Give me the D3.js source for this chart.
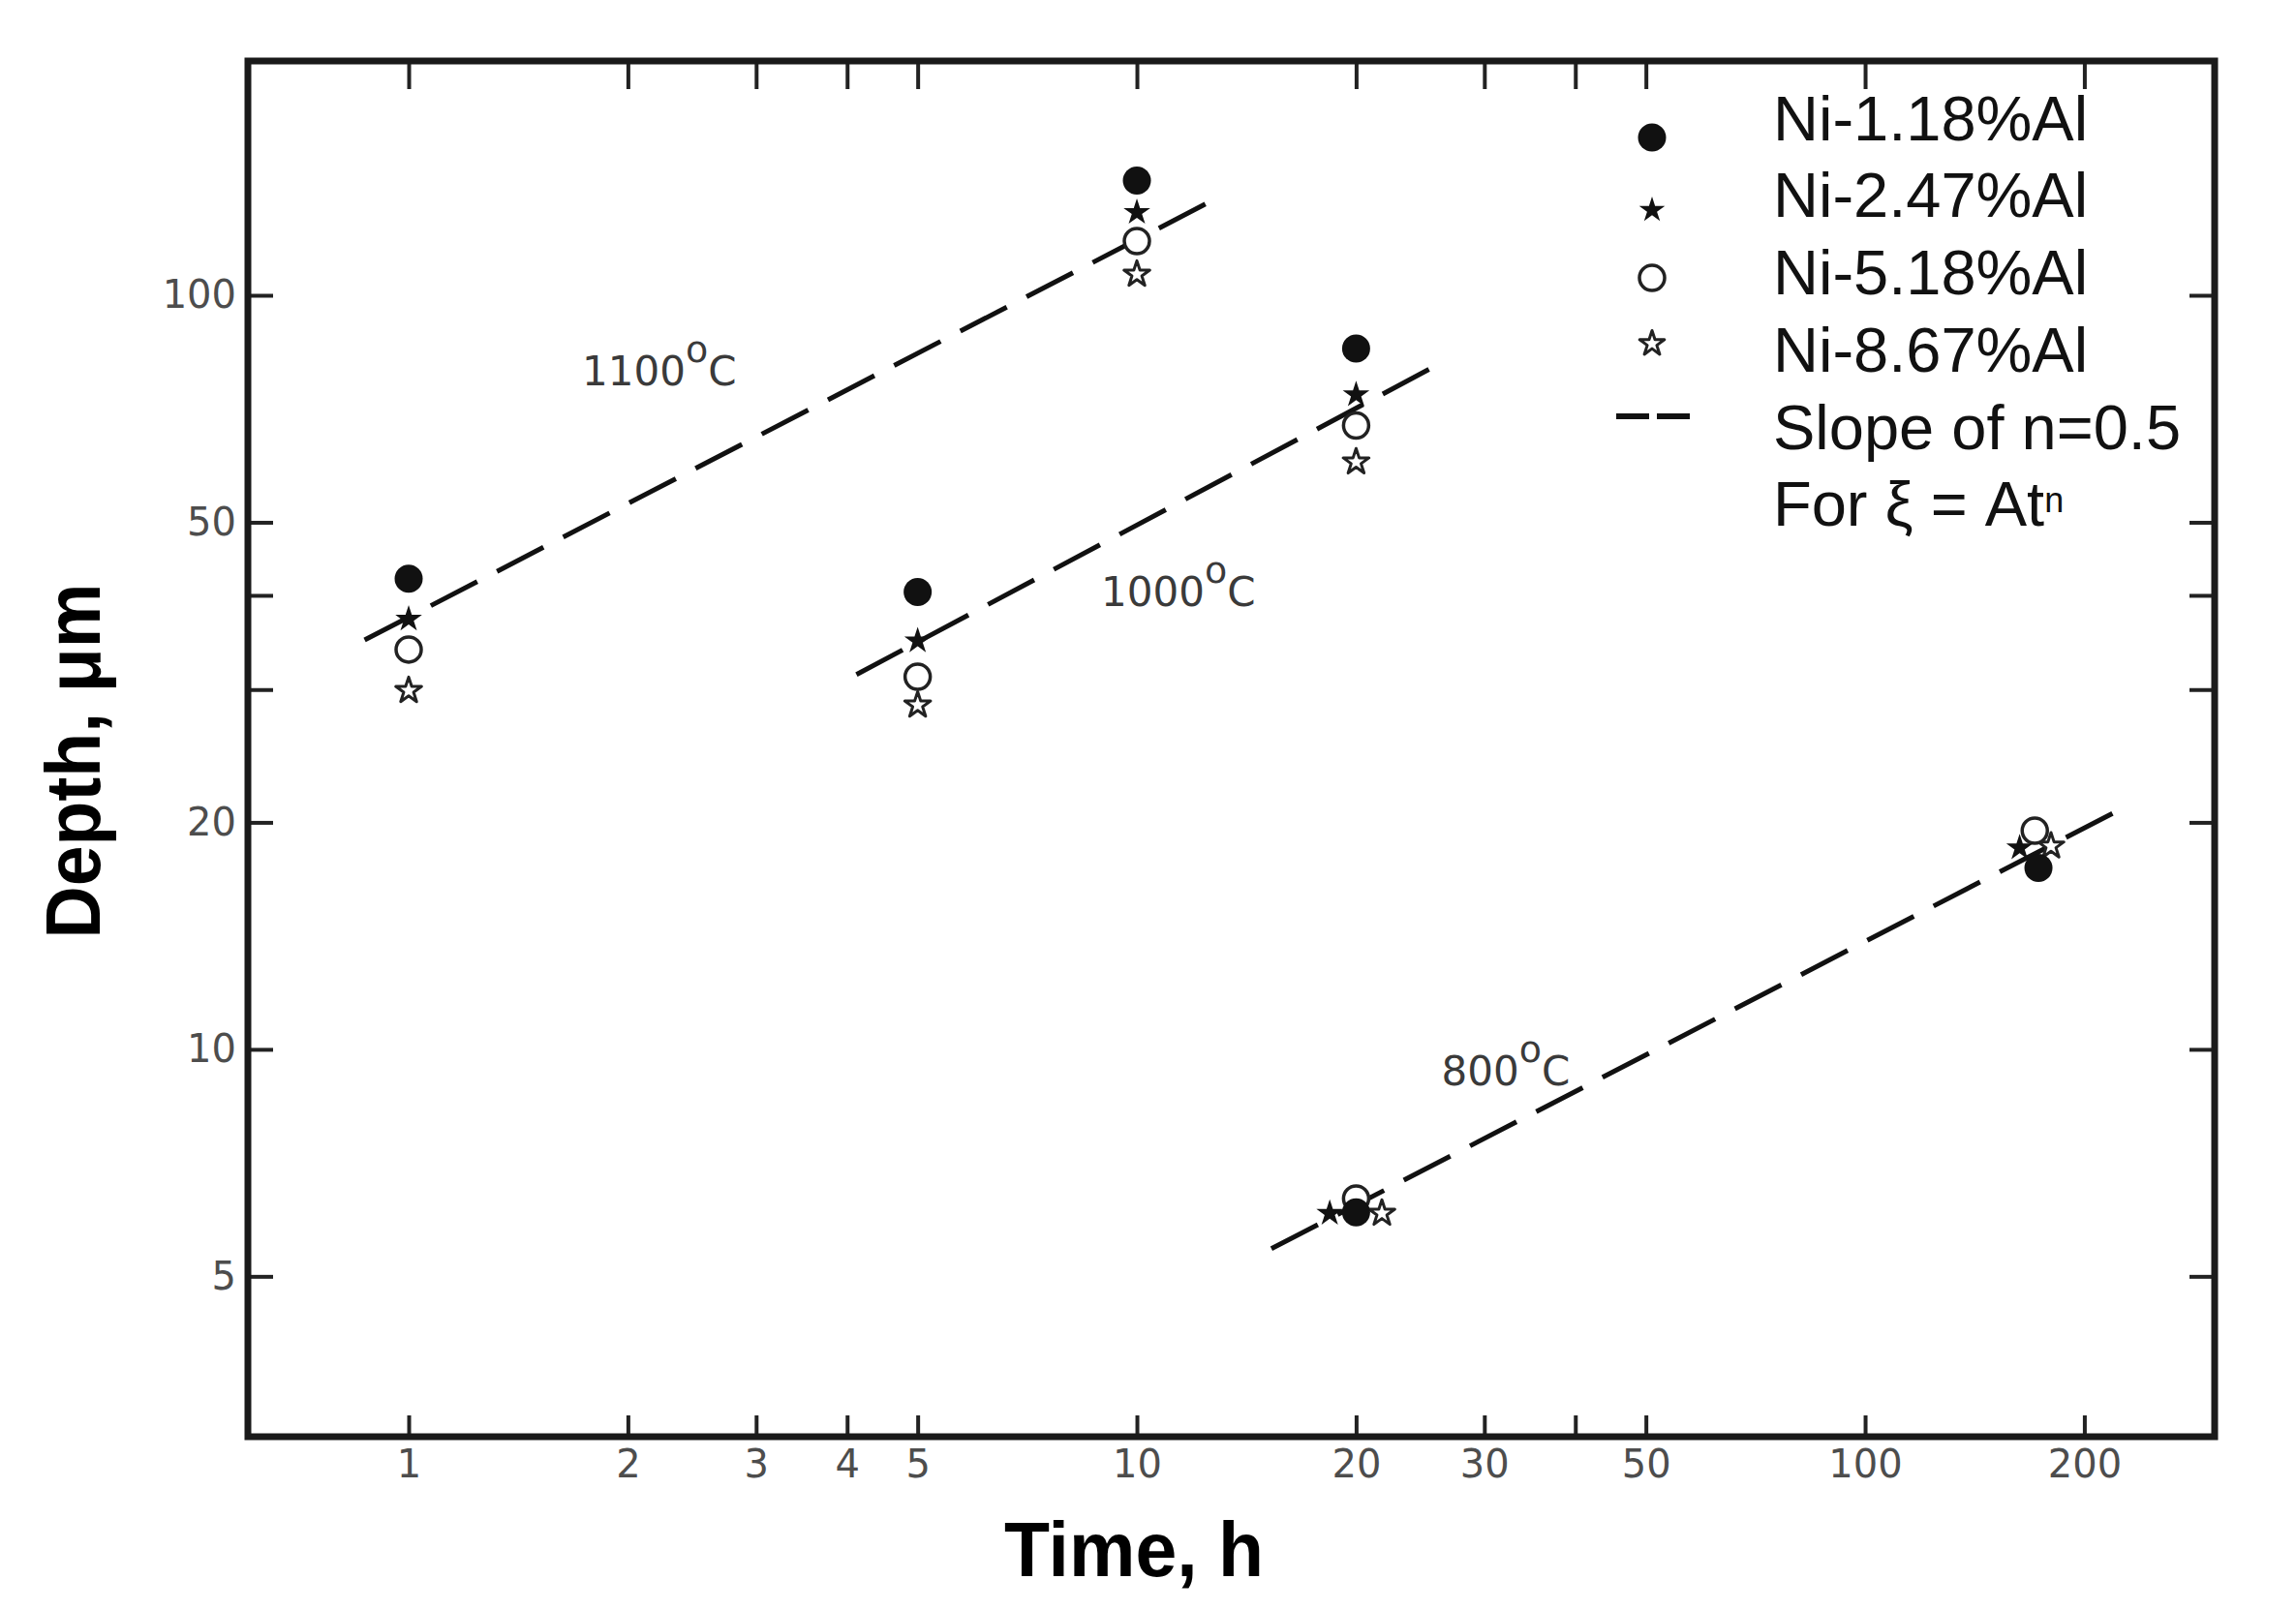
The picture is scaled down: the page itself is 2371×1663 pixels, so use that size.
<!DOCTYPE html>
<html>
<head>
<meta charset="utf-8">
<script src="https://cdn.jsdelivr.net/npm/d3@7/dist/d3.min.js"></script>
<style>
  html, body { margin: 0; padding: 0; background: #fff; }
  #chart { width: 2371px; height: 1663px; }
</style>
</head>
<body>
<div id="chart"></div>
<script>
// depth (um) vs time (h)
var alloyNames = ["Ni-1.18%Al", "Ni-2.47%Al", "Ni-5.18%Al", "Ni-8.67%Al"];

var ni118 = [{t: 1, d: 42.1}, {t: 10, d: 142}, {t: 5, d: 40.4}, {t: 20, d: 85.0}, {t: 20, d: 6.08}, {t: 173, d: 17.4}];
var ni247 = [{t: 1, d: 37.2}, {t: 10, d: 128.8}, {t: 5, d: 34.8}, {t: 20, d: 73.8}, {t: 18.4, d: 6.06}, {t: 163, d: 18.5}];
var ni518 = [{t: 1, d: 33.9}, {t: 10, d: 118}, {t: 5, d: 31.2}, {t: 20, d: 67.2}, {t: 20, d: 6.34}, {t: 171, d: 19.5}];
var ni867 = [{t: 1, d: 29.9}, {t: 10, d: 106.6}, {t: 5, d: 28.6}, {t: 20, d: 60.1}, {t: 21.7, d: 6.06}, {t: 180, d: 18.6}];

// n = 0.5 guide lines (end points)
var line1100 = [{t: 0.87, d: 34.9}, {t: 12.7, d: 133.6}];
var line1000 = [{t: 4.12, d: 31.4}, {t: 25.7, d: 80.6}];
var line800 = [{t: 15.3, d: 5.44}, {t: 224, d: 20.8}];

var tempLabels = [
    {text: "1100", t: 1.73, d: 75.9},
    {text: "1000", t: 8.93, d: 38.7},
    {text: "800", t: 26.2, d: 8.96}
];

var xTicks = [1, 2, 3, 4, 5, 10, 20, 30, 40, 50, 100, 200];
var xLabels = [1, 2, 3, 4, 5, 10, 20, 30, 50, 100, 200];
var yTicks = [5, 10, 20, 30, 40, 50, 100];
var yLabels = [5, 10, 20, 50, 100];

var W = 2371, H = 1663;
var L = 256, R = 2287, T = 63, B = 1484;

var svg = d3.select("#chart").append("svg")
    .attr("width", W)
    .attr("height", H);

svg.append("rect").attr("width", W).attr("height", H).attr("fill", "#fff");

var x = d3.scaleLog().domain([0.6015, 302]).range([L, R]);
var y = d3.scaleLog().domain([3.064, 204.5]).range([B, T]);

// axes, ticks pointing inward
function styleAxis (g) {
    g.select(".domain").remove();
    g.selectAll(".tick line").attr("stroke", "#222").attr("stroke-width", 4);
    g.selectAll(".tick text")
        .attr("fill", "#4d4d4d")
        .attr("font-family", "DejaVu Sans")
        .attr("font-size", 40);
}

svg.append("g")
    .attr("transform", "translate(0," + B + ")")
    .call(d3.axisBottom(x).tickValues(xTicks).tickSizeInner(-22).tickSizeOuter(0).tickPadding(14)
        .tickFormat(function(d) { return xLabels.indexOf(d) >= 0 ? d : ""; }))
    .call(styleAxis);

svg.append("g")
    .attr("transform", "translate(0," + T + ")")
    .call(d3.axisTop(x).tickValues(xTicks).tickSizeInner(-29).tickSizeOuter(0).tickFormat(""))
    .call(styleAxis);

svg.append("g")
    .attr("transform", "translate(" + L + ",0)")
    .call(d3.axisLeft(y).tickValues(yTicks).tickSizeInner(-26).tickSizeOuter(0).tickPadding(12)
        .tickFormat(function(d) { return yLabels.indexOf(d) >= 0 ? d : ""; }))
    .call(styleAxis);

svg.append("g")
    .attr("transform", "translate(" + R + ",0)")
    .call(d3.axisRight(y).tickValues(yTicks).tickSizeInner(-26).tickSizeOuter(0).tickFormat(""))
    .call(styleAxis);

svg.append("rect")
    .attr("x", L).attr("y", T)
    .attr("width", R - L).attr("height", B - T)
    .attr("fill", "none")
    .attr("stroke", "#1a1a1a")
    .attr("stroke-width", 7);

// dashed guide lines
var linefun = d3.line()
    .x(function(d) { return x(d.t); })
    .y(function(d) { return y(d.d); });

[line1100, line1000, line800].forEach(function(pts) {
    svg.append("path")
        .attr("d", linefun(pts))
        .attr("fill", "none")
        .attr("stroke", "#111")
        .attr("stroke-width", 5)
        .attr("stroke-dasharray", "54,23");
});

// temperature labels
tempLabels.forEach(function(lb) {
    var tx = svg.append("text")
        .attr("x", x(lb.t))
        .attr("y", y(lb.d))
        .attr("font-family", "DejaVu Sans")
        .attr("font-size", 42)
        .attr("fill", "#3a3a3a");
    tx.append("tspan").text(lb.text);
    tx.append("tspan").attr("dy", -24).attr("font-size", 38).text("o");
    tx.append("tspan").attr("dy", 24).text("C");
});

// markers
var starPath = function(r) {
    return d3.symbol().type(d3.symbolStar).size(r * r / 0.8908130915292852)();
};

var styles = [
    {kind: "circle", r: 14.5, fill: "#111", stroke: "none", sw: 0},
    {kind: "star", r: 14.5, fill: "#111", stroke: "none", sw: 0},
    {kind: "circle", r: 13, fill: "#fff", stroke: "#222", sw: 3.5},
    {kind: "star", r: 14, fill: "#fff", stroke: "#222", sw: 3}
];

function drawMarker (g, st, cx, cy, r) {
    if (st.kind == "circle") {
        g.append("circle")
            .attr("cx", cx).attr("cy", cy).attr("r", r)
            .attr("fill", st.fill).attr("stroke", st.stroke).attr("stroke-width", st.sw);
    } else {
        g.append("path")
            .attr("d", starPath(r))
            .attr("transform", "translate(" + cx + "," + cy + ")")
            .attr("fill", st.fill).attr("stroke", st.stroke).attr("stroke-width", st.sw)
            .attr("stroke-linejoin", "round");
    }
}

var series = [ni118, ni247, ni518, ni867];
var marks = svg.append("g");
[3, 2, 1, 0].forEach(function(i) {
    series[i].forEach(function(p) {
        drawMarker(marks, styles[i], x(p.t), y(p.d), styles[i].r);
    });
});

// legend
var legX = 1706, textX = 1831;
var legMarkY = [142, 217, 287, 355];
var legTextY = [145, 224, 304, 384, 464, 543];
var legR = [14.5, 14, 13, 13.5];

var leg = svg.append("g");
alloyNames.forEach(function(name, i) {
    drawMarker(leg, styles[i], legX, legMarkY[i], legR[i]);
    leg.append("text")
        .attr("x", textX).attr("y", legTextY[i])
        .attr("font-family", "Liberation Sans")
        .attr("font-size", 65)
        .attr("fill", "#111")
        .text(name);
});

leg.append("line")
    .attr("x1", legX - 37).attr("x2", legX + 39)
    .attr("y1", 430).attr("y2", 430)
    .attr("stroke", "#111")
    .attr("stroke-width", 6)
    .attr("stroke-dasharray", "34,8");

leg.append("text")
    .attr("x", textX).attr("y", legTextY[4])
    .attr("font-family", "Liberation Sans")
    .attr("font-size", 65)
    .attr("fill", "#111")
    .text("Slope of n=0.5");

var ft = leg.append("text")
    .attr("x", textX).attr("y", legTextY[5])
    .attr("font-family", "Liberation Sans")
    .attr("font-size", 65)
    .attr("fill", "#111");
ft.append("tspan").text("For ξ = At");
ft.append("tspan").attr("dy", -14).attr("font-size", 36).text("n");

// axis titles
svg.append("text")
    .attr("transform", "translate(103,786) rotate(-90)")
    .attr("text-anchor", "middle")
    .attr("font-family", "Liberation Sans")
    .attr("font-weight", "bold")
    .attr("font-size", 80)
    .attr("textLength", 367)
    .attr("lengthAdjust", "spacingAndGlyphs")
    .attr("fill", "#000")
    .text("Depth, μm");

svg.append("text")
    .attr("x", 1171).attr("y", 1628)
    .attr("text-anchor", "middle")
    .attr("font-family", "Liberation Sans")
    .attr("font-weight", "bold")
    .attr("font-size", 80)
    .attr("textLength", 268)
    .attr("lengthAdjust", "spacingAndGlyphs")
    .attr("fill", "#000")
    .text("Time, h");
</script>
</body>
</html>
